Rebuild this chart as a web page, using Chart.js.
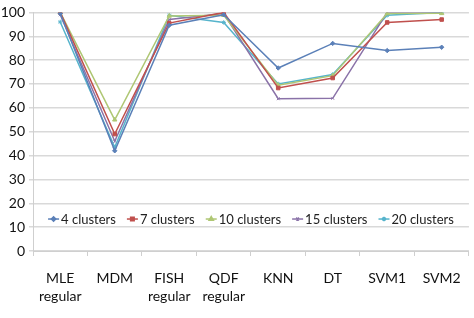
<!DOCTYPE html>
<html>
<head>
<meta charset="utf-8">
<script src="https://cdn.jsdelivr.net/npm/chart.js@4/dist/chart.umd.min.js"></script>
<style>
  html, body { margin: 0; padding: 0; background: #fff; }
  #wrap { width: 474px; height: 318px; }
</style>
</head>
<body>
<div id="wrap"><canvas id="chart" width="474" height="318"></canvas></div>
<script>
'use strict';

// --- DATA ---
const categories = [['MLE', 'regular'], 'MDM', ['FISH', 'regular'], ['QDF', 'regular'], 'KNN', 'DT', 'SVM1', 'SVM2'];
const seriesNames = ['4 clusters', '7 clusters', '10 clusters', '15 clusters', '20 clusters'];
const clusters4  = [99.5, 42, 94.6, 99, 76.7, 87, 84, 85.4];
const clusters7  = [100, 49, 95.5, 100, 68.3, 72.5, 95.8, 97];
const clusters10 = [100, 55, 98.5, 98.8, 69.5, 73.5, 99.5, 99.6];
const clusters15 = [99, 46, 97, 99.5, 63.8, 64, 100, 100];
const clusters20 = [96, 43.5, 98.8, 95.8, 70, 74, 98.8, 100];
const yTicks = [0, 10, 20, 30, 40, 50, 60, 70, 80, 90, 100];

// --- STYLE ---
const colors = ['#5B80B8', '#C0504D', '#AFC774', '#8A72A8', '#56B4CC'];
const markers = ['rectRot', 'rect', 'triangle', 'crossRot', 'star'];
const markerSizes = [2.2, 2.5, 2.5, 2, 2.2];
const FONT = 'Lato, "Open Sans", sans-serif';

const allSeries = [clusters4, clusters7, clusters10, clusters15, clusters20];

const datasets = allSeries.map((values, i) => ({
    label: seriesNames[i],
    data: values,
    borderColor: colors[i],
    backgroundColor: colors[i],
    borderWidth: 1.5,
    pointStyle: markers[i],
    pointRadius: markerSizes[i],
    pointBorderWidth: 1,
    tension: 0
}));

// legend drawn inside the plot area, like the original
const insideLegend = {
    id: 'insideLegend',
    afterDraw(chart) {
        const ctx = chart.ctx;
        const y = chart.scales.y.getPixelForValue(13.4);
        ctx.save();
        ctx.font = '13px ' + FONT;
        ctx.textBaseline = 'middle';
        const sample = 11, gapText = 2, gapItem = 11;
        const widths = chart.data.datasets.map(ds => sample + gapText + ctx.measureText(ds.label).width);
        const total = widths.reduce((a, b) => a + b, 0) + gapItem * (widths.length - 1);
        let x = chart.chartArea.left + (chart.chartArea.right - chart.chartArea.left - total) / 2;
        chart.data.datasets.forEach((ds, i) => {
            ctx.strokeStyle = ds.borderColor;
            ctx.fillStyle = ds.borderColor;
            ctx.lineWidth = 1.5;
            ctx.beginPath();
            ctx.moveTo(x, y);
            ctx.lineTo(x + sample, y);
            ctx.stroke();
            Chart.helpers.drawPoint(ctx, {
                pointStyle: ds.pointStyle,
                radius: ds.pointRadius,
                borderWidth: 1,
                rotation: 0
            }, x + sample / 2, y);
            ctx.fillStyle = '#222';
            ctx.fillText(ds.label, x + sample + gapText, y + 1);
            x += widths[i] + gapItem;
        });
        ctx.restore();
    }
};

new Chart(document.getElementById('chart'), {
    type: 'line',
    data: { labels: categories, datasets: datasets },
    plugins: [insideLegend],
    options: {
        responsive: false,
        animation: false,
        layout: { padding: { top: 11, right: 0, left: 0, bottom: 0 } },
        plugins: {
            legend: { display: false },
            tooltip: { enabled: false }
        },
        scales: {
            x: {
                offset: true,
                grid: {
                    offset: true,
                    drawOnChartArea: false,
                    drawTicks: true,
                    tickLength: 5,
                    color: '#cfcfcf',
                    lineWidth: 1
                },
                border: { color: '#cfcfcf', width: 1 },
                ticks: {
                    color: '#111',
                    font: { family: FONT, size: 14, lineHeight: 1.3 },
                    padding: 13,
                    maxRotation: 0,
                    autoSkip: false
                },
                afterFit(scale) { scale.height = 67; }
            },
            y: {
                min: 0,
                max: 100,
                afterBuildTicks(scale) { scale.ticks = yTicks.map(v => ({ value: v })); },
                grid: {
                    color: '#d9d9d9',
                    lineWidth: 1.5,
                    tickLength: 4
                },
                border: { color: '#cfcfcf', width: 1 },
                ticks: {
                    color: '#111',
                    font: { family: FONT, size: 14 },
                    padding: 4
                },
                afterFit(scale) { scale.width = 33; }
            }
        }
    }
});
</script>
</body>
</html>
